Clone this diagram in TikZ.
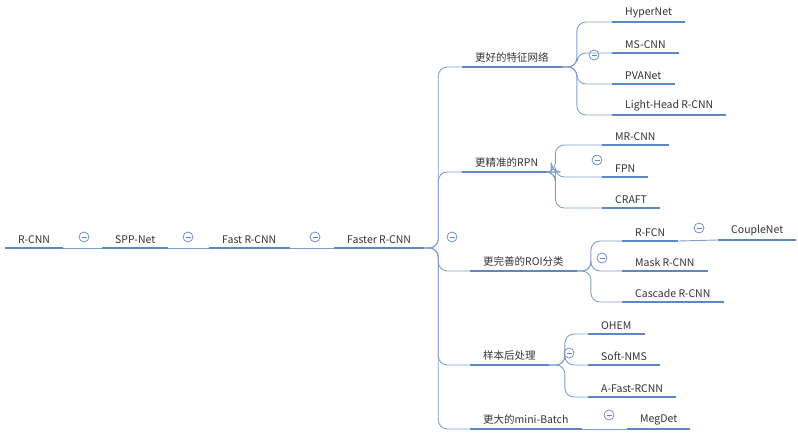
\documentclass[tikz,border=0pt]{standalone}
\usepackage{fontspec}
\setmainfont{Noto Sans CJK SC}
\begin{document}
\begin{tikzpicture}[x=1pt,y=-1pt,
  topic/.style={anchor=south west,inner xsep=13pt,inner ysep=4pt,font=\fontsize{10.5}{12}\selectfont,text=black!80},
  uline/.style={draw=lineblue,line width=2.2pt},
  conn/.style={draw=lineblue!80,line width=0.9pt,rounded corners=9pt},
  tog/.style={circle,draw=lineblue,line width=0.7pt,minimum size=10pt,inner sep=0pt,
    path picture={\draw[lineblue,line width=0.7pt] ([xshift=-2.5pt]path picture bounding box.center) -- ([xshift=2.5pt]path picture bounding box.center);}}]
\definecolor{lineblue}{RGB}{95,135,195}
\useasboundingbox (0,0) rectangle (798,435);
% main chain
\node[topic] (rcnn) at (5,248) {R-CNN};
\node[topic] (spp) at (102,248) {SPP-Net};
\node[topic] (fast) at (209,248) {Fast R-CNN};
\node[topic] (faster) at (334,248) {Faster R-CNN};
\node[tog] (t1) at (84,237) {};
\node[tog] (t2) at (188,237) {};
\node[tog] (t3) at (315,237) {};
\node[tog] (t4) at (452,237) {};
% branches
\node[topic] (b1) at (462,67) {更好的特征网络};
\node[topic] (b2) at (462,172) {更精准的RPN};
\node[topic] (b3) at (470,271) {更完善的ROI分类};
\node[topic] (b4) at (470,365) {样本后处理};
\node[topic] (b5) at (470,429) {更大的mini-Batch};
\node[tog] (t5) at (594,55) {};
\node[tog] (t6) at (597,160) {};
\node[tog] (t7) at (602,258) {};
\node[tog] (t8) at (569,353) {};
\node[tog] (t9) at (609,415) {};
% leaves
\node[topic] (l1) at (612,22) {HyperNet};
\node[topic] (l2) at (612,53) {MS-CNN};
\node[topic] (l3) at (612,84) {PVANet};
\node[topic] (l4) at (612,115) {Light-Head R-CNN};
\node[topic] (l5) at (602,145) {MR-CNN};
\node[topic] (l6) at (602,177) {FPN};
\node[topic] (l7) at (602,208) {CRAFT};
\node[topic] (l8) at (622,241) {R-FCN};
\node[tog] (t10) at (699,228) {};
\node[topic] (l9) at (718,240) {CoupleNet};
\node[topic] (l10) at (622,271) {Mask R-CNN};
\node[topic] (l11) at (622,302) {Cascade R-CNN};
\node[topic] (l12) at (588,334) {OHEM};
\node[topic] (l13) at (588,365) {Soft-NMS};
\node[topic] (l14) at (588,397) {A-Fast-RCNN};
\node[topic] (l15) at (627,429) {MegDet};
% underlines
\foreach \n in {rcnn,spp,fast,faster,b1,b2,b3,b4,b5,l1,l2,l3,l4,l5,l6,l7,l8,l9,l10,l11,l12,l13,l14,l15}
  \draw[uline] (\n.south west) -- (\n.south east);
% connectors
\draw[conn] (rcnn.south east) -- (spp.south west);
\draw[conn] (spp.south east) -- (fast.south west);
\draw[conn] (fast.south east) -- (faster.south west);
\foreach \b in {b1,b2,b3,b4,b5}
  \draw[conn] (faster.south east) -- ++(14,0) |- (\b.south west);
\foreach \c in {l1,l2,l3,l4}
  \draw[conn] (b1.south east) -- ++(15,0) |- (\c.south west);
\foreach \c in {l5,l6,l7}
  \draw[conn] (b2.south east) -- ++(0,0) -- ++(4,0) |- (\c.south west);
\foreach \c in {l8,l10,l11}
  \draw[conn] (b3.south east) -- ++(14,0) |- (\c.south west);
\foreach \c in {l12,l13,l14}
  \draw[conn] (b4.south east) -- ++(16,0) |- (\c.south west);
\draw[conn] (b5.south east) -- (l15.south west);
\draw[conn] (l8.south east) -- (l9.south west);
\end{tikzpicture}
\end{document}
